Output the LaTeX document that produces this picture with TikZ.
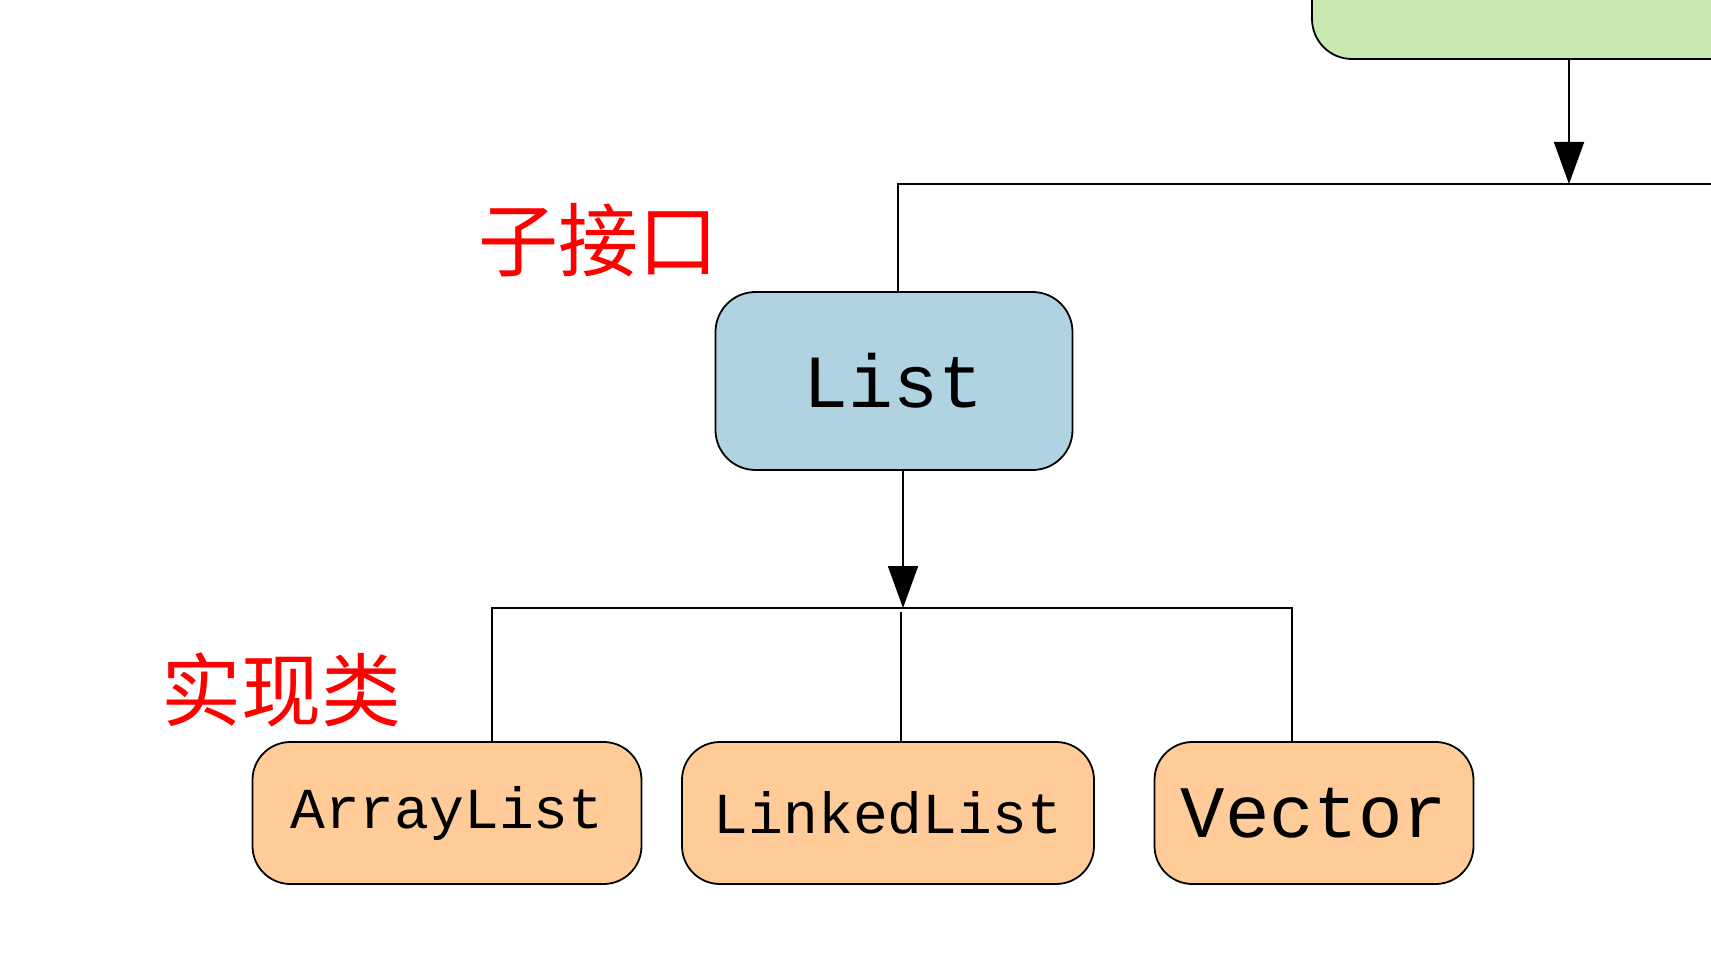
\documentclass[tikz,border=0pt]{standalone}
\usepackage{fontspec}
\setmonofont{Liberation Mono}
\newfontfamily\cjk{Noto Sans CJK SC}
\usetikzlibrary{arrows.meta, positioning}
\tikzset{
    iface/.style={rectangle, rounded corners=40pt, draw, line width=1.8pt, fill=cyan!30!teal!35, minimum width=357pt, minimum height=178pt, font=\ttfamily\fontsize{75}{80}\selectfont},
    impl/.style={rectangle, rounded corners=38pt, draw, line width=1.8pt, fill=orange!40, minimum height=142pt, font=\ttfamily\fontsize{58}{62}\selectfont},
    top/.style={rectangle, rounded corners=40pt, draw, line width=1.8pt, fill=green!40!olive!30},
    tag/.style={text=red, font=\cjk\fontsize{80}{84}\selectfont},
    link/.style={line width=1.2pt},
    arrow/.style={-{Triangle[length=42pt, width=30pt]}, line width=1.8pt}
}
\begin{document}
\begin{tikzpicture}[x=1pt, y=-1pt]
            \clip (0,0) rectangle (1711,973);
            \useasboundingbox (0,0) rectangle (1711,973);
            \node (base) [top, minimum width=520pt, minimum height=160pt] at (1572,-21) {};
            \node (list) [iface] at (894,381) {List};
            \node (arr) [impl, minimum width=389pt] at (447,813) {ArrayList};
            \node (lnk) [impl, minimum width=412pt] at (888,813) {LinkedList};
            \node (vec) [impl, minimum width=319pt, font=\ttfamily\fontsize{74}{78}\selectfont] at (1314,813) {Vector};
            \node (sub) [tag] at (598,240) {子接口};
            \node (cls) [tag] at (281,690) {实现类};
            \coordinate (j1) at (1569,184);
            \coordinate (j2) at (903,608);

            \draw[link] (list.north -| 898,0) -- (898,184) -- (1711,184);
            \draw[arrow] (base.south -| j1) -- (j1);
            \draw[link] (arr.north -| 492,0) -- (492,608) -- (1292,608) -- (vec.north -| 1292,0);
            \draw[link] (lnk.north -| 901,0) -- (901,612);
            \draw[arrow] (list.south -| j2) -- (j2);
        \end{tikzpicture}
\end{document}
